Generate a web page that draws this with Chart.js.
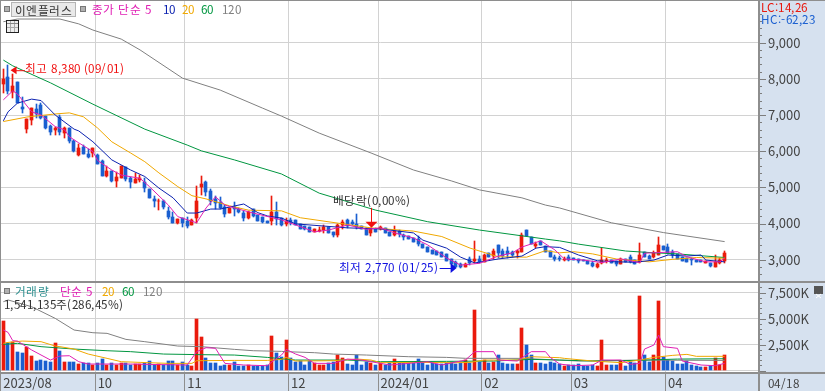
<!DOCTYPE html>
<html lang="ko"><head><meta charset="utf-8">
<script src="https://cdn.jsdelivr.net/npm/chart.js@4"></script>
<style>
@font-face{font-family:KR;src:local("Noto Sans CJK KR"),local("Noto Sans CJK KR Regular");size-adjust:90%}
html,body{margin:0;padding:0;background:#fff;overflow:hidden}
#stage{position:relative;width:825px;height:391px;overflow:hidden;font:13px "Liberation Sans Narrow",KR,"Noto Sans CJK KR",sans-serif}
#stage canvas{position:absolute;left:0}
.bg,.ln,.t,.sq{position:absolute}
.t{white-space:nowrap;line-height:14px;letter-spacing:.45px}
.bg{background:#d6e1ef}
.ln{background:#8e8e8e}
.sq{width:4px;height:4px;background:#b0b0b0;border:1px solid #777}
#btn{position:absolute;left:11px;top:2px;width:63px;height:13px;border:1px solid #b4b4b4;background:#e9e9e9;color:#333;text-align:center;line-height:13px;letter-spacing:.6px}
#ico{position:absolute;left:6px;top:20px;width:11px;height:11px;border:1px solid #222;background:
linear-gradient(#888,#888) 0 2px/100% 1px no-repeat,linear-gradient(#aaa,#aaa) 0 6px/100% 1px no-repeat,linear-gradient(#aaa,#aaa) 3px 0/1px 100% no-repeat,linear-gradient(#aaa,#aaa) 7px 0/1px 100% no-repeat,#eee}
#cls{position:absolute;left:814px;top:286px;width:9px;height:8px;background:#555}
</style></head><body><div id="stage">
<div class="bg" style="left:760px;top:0;width:65px;height:391px"></div>
<div class="bg" style="left:0;top:373px;width:825px;height:18px"></div>
<canvas id="priceChart" width="825" height="282" style="top:0;width:825px;height:282px"></canvas>
<canvas id="volumeChart" width="825" height="109" style="top:282px;width:825px;height:109px"></canvas>
<div class="ln" style="left:0;top:0;width:825px;height:1px"></div>
<div class="ln" style="left:0;top:0;width:1px;height:391px"></div>
<div class="ln" style="left:758px;top:0;width:2px;height:391px"></div>
<div class="ln" style="left:0;top:281px;width:825px;height:2px"></div>
<div class="ln" style="left:0;top:372px;width:825px;height:2px"></div>
<div class="sq" style="left:4px;top:6px"></div>
<div id="btn">이엔플러스</div>
<div class="sq" style="left:80px;top:6px"></div>
<span class="t" style="left:92px;top:2px;color:#e01fb4">종가 단순 5</span>
<span class="t" style="left:163px;top:2px;color:#0c22b0">10</span>
<span class="t" style="left:182px;top:2px;color:#f0a800">20</span>
<span class="t" style="left:201px;top:2px;color:#009640">60</span>
<span class="t" style="left:222px;top:2px;color:#808080">120</span>
<div id="ico"></div>
<span class="t" style="left:761px;top:0;color:#e8170c">LC:14,26</span>
<span class="t" style="left:761px;top:12px;color:#1a5fd0">HC:-62,23</span>
<span class="t" style="left:25px;top:61px;color:#f01010">최고 8,380 (09/01)</span>
<span class="t" style="left:333px;top:193px;color:#333">배당락(0,00%)</span>
<span class="t" style="left:339px;top:260px;color:#1010e0">최저 2,770 (01/25)</span>
<div class="sq" style="left:4px;top:288px"></div>
<span class="t" style="left:15px;top:284px;color:#2f9090">거래량</span>
<span class="t" style="left:60px;top:284px;color:#e01fb4">단순 5</span>
<span class="t" style="left:102px;top:284px;color:#f0a800">20</span>
<span class="t" style="left:122px;top:284px;color:#009640">60</span>
<span class="t" style="left:143px;top:284px;color:#808080">120</span>
<span class="t" style="left:4px;top:297px;color:#333">1,541,135주(286,45%)</span>
<span class="t" style="left:768px;top:376px;color:#444">04/18</span>
<div id="cls"><svg width="9" height="8"><path d="M2 2L7 6M7 2L2 6" stroke="#fff" fill="none"/></svg></div>
</div>
<script>
const tickLabels = {0:'2023/08',20:'10',39:'11',61:'12',80:'2024/01',102:'02',121:'03',141:'04'};
const slots = 161;
const categories = Array.from({length:slots},(_,i)=>tickLabels[i]||'');

const opens  = [7860,8040,7650,7910,7230,6610,6860,7160,7290,6970,6700,6590,6950,6510,6650,6280,5890,6110,5920,5940,5900,5730,5310,5450,5180,5270,5550,5270,5130,5200,5160,4950,4680,4610,4630,4350,4190,4020,4150,4060,3960,4160,5000,5140,4900,4680,4590,4470,4280,4470,4390,4280,4140,4390,4240,4170,4070,4080,4330,4140,3980,4100,4100,3980,3930,3910,3770,3790,3820,3900,3770,3680,3960,4100,4050,3980,3930,3870,3730,3860,3860,3870,3770,3670,3780,3680,3650,3590,3560,3430,3340,3270,3240,3220,3150,3010,2945,2880,2800,3020,2950,3020,2940,3190,3100,3410,3250,3240,3200,3190,3220,3820,3630,3390,3520,3390,3240,3070,3050,2990,3080,3040,3010,2990,2960,2920,2810,2900,2950,2990,2950,2870,3020,3070,2990,2930,3220,3100,3070,3130,3380,3360,3220,3150,3080,3040,3020,3000,2980,2920,2910,2810,2920,2960];
const closes = [8000,7670,7800,7320,7170,6880,7190,7030,6920,6630,6540,6650,6520,6650,6280,6000,6080,5920,5850,6080,5650,5310,5460,5180,5290,5590,5220,5160,5220,5270,4990,4700,4620,4630,4450,4190,4020,4130,4010,3920,4100,4620,5090,4880,4620,4580,4440,4260,4420,4400,4330,4140,4330,4210,4080,4050,4020,4330,4120,3960,4080,4030,3960,3850,3850,3770,3840,3830,3900,3750,3670,3960,4050,3940,3990,3900,3840,3680,3840,3770,3900,3750,3650,3800,3710,3640,3570,3490,3430,3320,3220,3160,3120,3070,2960,2880,2810,2790,2880,2910,3010,2930,3130,3070,3240,3180,3100,3160,3140,3240,3680,3660,3430,3420,3410,3210,3080,3010,3010,3030,2990,2990,2960,2950,2870,2830,2870,2980,3000,2920,2870,3020,2930,2930,2880,3130,3080,3010,3180,3410,3270,3190,3130,3030,2970,2940,2990,2940,2940,2960,2830,2940,3000,3180];
const highs  = [8270,8380,8130,7910,7490,6880,7190,7310,7330,6970,6720,6680,7000,6680,6650,6310,6200,6170,6050,6080,5920,5760,5590,5450,5430,5590,5550,5290,5410,5350,5270,4950,4770,4670,4650,4450,4320,4130,4150,4190,4120,5040,5310,5170,4950,4770,4720,4510,4420,4600,4430,4340,4350,4400,4240,4170,4070,4760,4600,4160,4160,4140,4100,3980,3930,3910,3840,3900,3950,3900,3770,3990,4100,4130,4100,4260,3930,3870,3870,3880,3930,3870,3770,3930,3830,3720,3650,3590,3650,3430,3340,3270,3240,3220,3150,3010,2970,2900,2920,3080,3520,3100,3170,3190,3300,3410,3300,3360,3250,3270,3730,3820,3630,3500,3520,3390,3240,3130,3110,3070,3120,3040,3010,2990,2960,2950,2910,3330,3040,2990,2950,3050,3020,3120,2990,3470,3220,3130,3250,3640,3380,3420,3260,3150,3080,3040,3040,3000,2980,2960,2910,3120,3040,3250];
const lows   = [7610,7570,7460,7320,7060,6500,6720,6920,6900,6620,6450,6450,6450,6360,6235,5980,5870,5920,5810,5850,5640,5310,5300,5160,5020,5270,5180,4990,5130,5150,4880,4700,4460,4370,4400,4120,4020,4000,3910,3890,3960,4020,4790,4770,4510,4390,4390,4180,4280,4220,4280,4070,4130,4190,4080,4010,4020,3960,3960,3920,3940,3960,3960,3850,3810,3770,3770,3770,3750,3750,3630,3640,3840,3870,3950,3840,3840,3680,3660,3770,3820,3750,3650,3650,3640,3550,3570,3490,3380,3320,3220,3160,3120,3070,2960,2880,2810,2770,2790,2850,2920,2900,2930,3070,3010,3050,3050,3050,3080,3040,3200,3660,3430,3320,3410,3210,3080,2960,2950,2960,2970,2990,2900,2950,2870,2800,2770,2880,2900,2920,2830,2870,2930,2900,2880,2900,3080,3010,3040,3130,3270,3170,3050,3030,2970,2940,2850,2940,2940,2900,2810,2790,2870,2900];

const volumes = [4775,2630,2720,1795,1700,2310,1410,930,1025,960,865,2690,1890,830,830,830,640,705,705,510,770,1150,545,705,545,735,705,575,640,610,735,930,545,640,545,930,930,545,830,545,450,4970,3240,1220,705,705,450,510,545,865,480,450,510,450,450,450,510,3330,1730,1280,2950,1220,865,960,545,960,705,545,575,705,865,1505,1220,640,545,1540,545,865,705,545,705,545,705,1120,705,770,770,770,1090,770,545,705,640,640,770,865,640,705,1025,770,5830,865,1025,705,865,1505,705,640,640,640,4100,2470,1505,735,705,640,865,705,610,480,575,545,640,480,480,545,480,2950,545,545,545,930,480,865,705,7180,1505,865,1505,6700,1345,1025,930,640,640,930,545,480,350,385,480,1190,545,1541];

const ma5 = [[0,7420],[2,7670],[3,7580],[6,7090],[8,7000],[11,6680],[13,6590],[14,6400],[16,6230],[19,5990],[20,5740],[23,5480],[25,5340],[29,5250],[31,5020],[35,4510],[37,4190],[41,4020],[43,4430],[45,4740],[47,4510],[49,4430],[53,4290],[59,4100],[62,3960],[66,3770],[69,3820],[73,3960],[77,3840],[80,3880],[83,3740],[87,3600],[90,3410],[94,3050],[97,2850],[101,2900],[105,3100],[108,3190],[110,3350],[114,3520],[117,3270],[119,3020],[123,2990],[127,2920],[131,3020],[135,2920],[136,3180],[143,3220],[145,3080],[149,2940],[152,2940],[153,3050]];
const ma10 = [[0,6840],[1,7090],[3,7330],[6,7440],[8,7400],[11,7000],[15,6610],[16,6560],[19,6260],[23,5760],[27,5480],[30,5300],[33,4980],[36,4710],[39,4290],[41,4290],[44,4400],[46,4400],[51,4540],[54,4300],[56,4210],[59,4150],[62,3990],[73,3880],[80,3850],[87,3740],[89,3540],[94,3320],[97,3070],[100,2910],[105,3020],[110,3100],[113,3320],[115,3360],[118,3340],[122,3130],[126,2970],[130,2940],[134,2930],[138,2990],[141,3130],[145,3100],[148,3130],[149,2990],[153,2940]];
const ma20 = [[0,6820],[5,6945],[11,7030],[14,7060],[17,6950],[20,6640],[23,6260],[27,5950],[30,5710],[33,5400],[37,5020],[40,4770],[43,4680],[48,4490],[52,4370],[59,4350],[63,4160],[71,4010],[78,3880],[87,3790],[93,3640],[99,3320],[105,3080],[111,3070],[115,3250],[118,3190],[121,3220],[125,3160],[130,3020],[137,2940],[142,3010],[147,3060],[153,3040]];
const ma60 = [[0,8520],[2,8360],[10,7890],[19,7300],[30,6610],[39,6170],[42,6010],[49,5760],[59,5370],[67,4840],[79,4370],[90,4050],[101,3820],[115,3570],[118,3520],[122,3430],[132,3240],[138,3190],[143,3160],[153,3060]];
const ma120 = [[0,9580],[3,9655],[12,9655],[16,9520],[19,9350],[25,9100],[29,8800],[38,8020],[46,7690],[55,7190],[59,6970],[67,6500],[78,5950],[87,5480],[95,5180],[101,4930],[110,4710],[115,4510],[118,4430],[129,4020],[140,3750],[153,3500]];

const vma5 = [[0,3910],[1,3680],[2,2885],[3,2850],[6,1990],[10,1025],[12,1410],[14,1440],[16,865],[18,640],[27,640],[30,610],[39,545],[41,1830],[43,2210],[45,2150],[47,705],[51,545],[56,480],[57,865],[59,1505],[60,2050],[62,1600],[64,1280],[66,705],[70,705],[73,1120],[76,1025],[80,705],[82,545],[90,865],[93,545],[98,1025],[100,1830],[104,1830],[105,1025],[109,930],[112,1830],[115,1830],[116,1280],[118,640],[121,480],[125,545],[127,1025],[131,1025],[133,610],[135,705],[136,2080],[138,2470],[139,3430],[140,2310],[143,2150],[144,930],[148,545],[151,480],[153,705]];
const vma20 = [[0,2630],[1,2720],[4,2850],[8,2790],[11,2370],[12,2310],[15,2080],[18,1600],[22,1185],[25,865],[29,800],[35,705],[40,705],[41,960],[49,990],[56,990],[59,1090],[60,1280],[62,930],[70,960],[75,1120],[78,1025],[80,770],[87,800],[96,770],[99,800],[102,1025],[109,1025],[112,1345],[118,1250],[119,1185],[125,930],[131,770],[135,1025],[138,1280],[142,1475],[145,1570],[147,1380],[153,1380]];
const vma60 = [[0,2530],[3,2630],[8,2310],[15,2080],[22,1920],[27,1830],[34,1600],[42,1540],[49,1505],[56,1280],[59,1150],[62,1025],[73,1025],[80,865],[94,900],[104,930],[112,1090],[118,1025],[125,930],[134,990],[143,1120],[153,1150]];
const vma120 = [[0,6630],[1,6800],[6,6150],[11,5030],[15,3910],[19,3650],[22,3590],[26,3010],[30,2790],[37,2370],[42,2310],[49,2050],[53,1920],[59,1860],[60,1830],[66,1730],[70,1600],[77,1505],[86,1345],[94,1280],[98,1190],[110,1185],[122,930],[135,1020],[153,990]];

const priceTicks=[2600,2800,3000,3200,3400,3600,3800,4000,4200,4400,4600,4800,5000,5200,5400,5600,5800,6000,6200,6400,6600,6800,7000,7200,7400,7600,7800,8000,8200,8400,8600,8800,9000,9200,9400,9600,9800];
const volumeTicks=[0,500,1000,1500,2000,2500,3000,3500,4000,4500,5000,5500,6000,6500,7000,7500,8000];

const UP='#ea1a0c', DOWN='#1a5fd0', GRID='#d2d2d2', FONT='"Liberation Sans Narrow","Noto Sans CJK KR",sans-serif';
const monthIdx = new Set(Object.keys(tickLabels).map(Number).filter(i=>i>0));
const sparse = pts=>{const a=Array(slots).fill(null);pts.forEach(([i,v])=>a[i]=v);return a;};
const lineDs=(label,pts,color,order,y)=>({type:'line',label,data:sparse(pts),borderColor:color,borderWidth:1,pointRadius:0,tension:0,spanGaps:true,order,yAxisID:y});
const colours=opens.map((o,i)=>closes[i]>=o?UP:DOWN);
const noPad=s=>{s.paddingTop=0;s.paddingBottom=0;s.paddingLeft=0;s.paddingRight=0;};

const crisp={id:'crisp',beforeDatasetsDraw(c){c.getSortedVisibleDatasetMetas().forEach(m=>{if(m.type!=='bar')return;m.data.forEach(e=>{e.x=Math.round(e.x-.7)+.5;e.y=Math.round(e.y);e.base=Math.round(e.base);});});}};
const axisTicks=(majorStep)=>({id:'axisTicks',afterDraw(c){const s=c.scales.y,x=c.chartArea.right,g=c.ctx;g.save();g.strokeStyle='#7d7d7d';g.lineWidth=1;
  s.ticks.forEach(t=>{const y=Math.round(s.getPixelForValue(t.value))+.5,len=t.value%majorStep===0?6:2;g.beginPath();g.moveTo(x,y);g.lineTo(x+len,y);g.stroke();});g.restore();}});
const markers={id:'markers',afterDatasetsDraw(c){const X=c.scales.x,Y=c.scales.y,g=c.ctx;g.save();
  let x=X.getPixelForValue(1),y=Y.getPixelForValue(8240);g.fillStyle=g.strokeStyle='#f01010';g.lineWidth=1;
  g.beginPath();g.moveTo(x+2.5,y);g.lineTo(x+8.5,y-4);g.lineTo(x+8.5,y+4);g.closePath();g.fill();
  g.beginPath();g.moveTo(x+8,y+.5);g.lineTo(x+17,y+.5);g.stroke();
  x=Math.round(X.getPixelForValue(78))+.5;y=Y.getPixelForValue(3880);
  g.beginPath();g.moveTo(x,y-20);g.lineTo(x,y-5);g.stroke();
  g.beginPath();g.moveTo(x-6,y-6);g.lineTo(x+6,y-6);g.lineTo(x,y);g.closePath();g.fill();
  x=X.getPixelForValue(97);y=Y.getPixelForValue(2770);g.fillStyle=g.strokeStyle='#1010e0';
  g.beginPath();g.moveTo(x-4,y);g.lineTo(x-10,y-5);g.lineTo(x-10,y+5);g.closePath();g.fill();
  g.beginPath();g.moveTo(x-21,y+.5);g.lineTo(x-8,y+.5);g.stroke();
  g.restore();}};

const xGrid=c=>monthIdx.has(c.index)?GRID:'transparent';
const common={responsive:false,animation:false,events:[],plugins:{legend:{display:false},tooltip:{enabled:false}},devicePixelRatio:1};

new Chart(document.getElementById('priceChart'),{
  data:{labels:categories,datasets:[
    lineDs('5',ma5,'#e01fb4',1,'y'),lineDs('10',ma10,'#0c22b0',2,'y'),lineDs('20',ma20,'#f0a800',3,'y'),lineDs('60',ma60,'#009640',4,'y'),lineDs('120',ma120,'#808080',5,'y'),
    {type:'bar',label:'body',data:opens.map((o,i)=>[o,closes[i]]),backgroundColor:colours,barThickness:3,grouped:false,order:6,yAxisID:'y'},
    {type:'bar',label:'wick',data:lows.map((l,i)=>[l,highs[i]]),backgroundColor:colours,barThickness:1,grouped:false,order:7,yAxisID:'y'}
  ]},
  options:{...common,layout:{padding:{left:1,top:0,right:0,bottom:0}},
    scales:{
      x:{type:'category',offset:true,border:{display:false},grid:{color:xGrid,offset:true,drawTicks:false,lineWidth:1},ticks:{display:false,autoSkip:false},afterFit(s){s.height=0;noPad(s);}},
      y:{position:'right',min:2383,max:10181,border:{display:false},afterFit(s){s.width=65;noPad(s);},
        afterBuildTicks(s){s.ticks=priceTicks.map(value=>({value}));},
        grid:{color:c=>c.tick.value%1000===0?GRID:'transparent',drawTicks:false},
        ticks:{autoSkip:false,padding:8,color:'#444',font:{family:FONT,size:13},
          callback:v=>v%1000===0?v.toLocaleString('en-US'):''}}
    }},
  plugins:[crisp,axisTicks(1000),markers]
});

new Chart(document.getElementById('volumeChart'),{
  data:{labels:categories,datasets:[
    lineDs('5',vma5,'#e01fb4',1,'y'),lineDs('20',vma20,'#f0a800',2,'y'),lineDs('60',vma60,'#009640',3,'y'),lineDs('120',vma120,'#808080',4,'y'),
    {type:'bar',label:'거래량',data:volumes,backgroundColor:colours,barThickness:3,order:6,yAxisID:'y'}
  ]},
  options:{...common,layout:{padding:{left:1,top:1,right:0,bottom:0}},
    scales:{
      x:{type:'category',offset:true,border:{display:false},grid:{color:xGrid,offset:true,tickLength:19,tickColor:c=>monthIdx.has(c.index)?'#8e8e8e':'transparent'},
        ticks:{autoSkip:false,maxRotation:0,minRotation:0,align:'start',padding:-16,color:'#444',font:{family:FONT,size:13},callback(v){return this.getLabelForValue(v);}},
        afterFit(s){s.height=19;noPad(s);}},
      y:{position:'right',min:-125,max:8430,border:{display:false},afterFit(s){s.width=65;noPad(s);},
        afterBuildTicks(s){s.ticks=volumeTicks.map(value=>({value}));},
        grid:{color:c=>c.tick.value%2500===0?GRID:'transparent',drawTicks:false},
        ticks:{autoSkip:false,padding:8,color:'#444',font:{family:FONT,size:13},
          callback:v=>v%2500===0&&v>0?v.toLocaleString('en-US')+'K':''}}
    }},
  plugins:[crisp,axisTicks(2500)]
});
</script></body></html>
